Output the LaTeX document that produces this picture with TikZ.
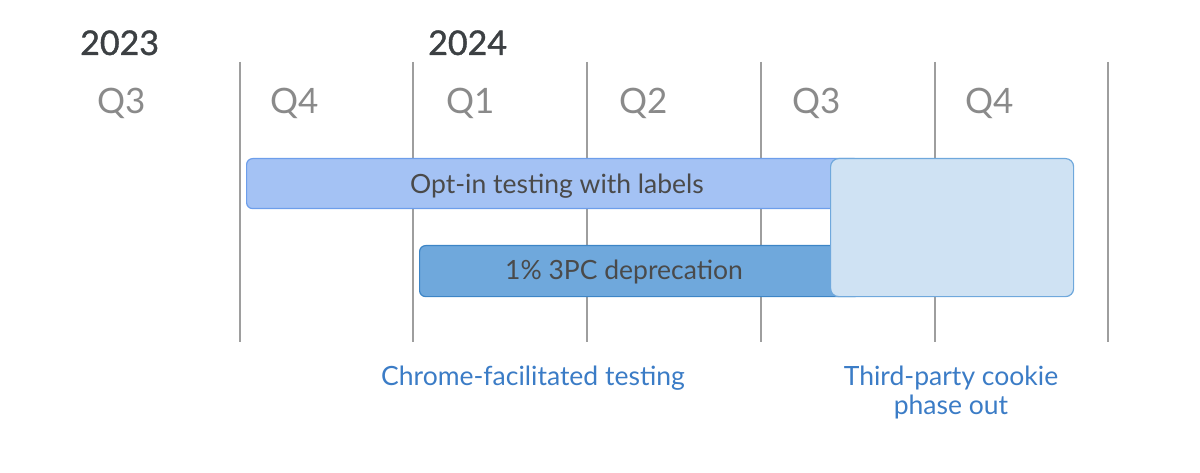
\documentclass[tikz,border=0pt]{standalone}
\usepackage{fontspec}
\setmainfont{Lato}
\newfontfamily\yearfont{Lato}[FakeBold=1.2]
\usepackage{xcolor}
\definecolor{yeargray}{HTML}{3C4043}
\definecolor{qgray}{HTML}{8A8A8A}
\definecolor{linegray}{HTML}{9E9E9E}
\definecolor{optfill}{HTML}{A4C2F4}
\definecolor{optdraw}{HTML}{6D9EEB}
\definecolor{depfill}{HTML}{6FA8DC}
\definecolor{depdraw}{HTML}{3D85C6}
\definecolor{phasefill}{HTML}{CFE2F3}
\definecolor{phasedraw}{HTML}{6FA8DC}
\definecolor{bartext}{HTML}{4A4A4A}
\definecolor{labelblue}{HTML}{3B7CC6}

\begin{document}
\begin{tikzpicture}[x=1pt, y=-1pt]
        % ================= 样式 =================
        \tikzset{
            year/.style={anchor=base west, font=\yearfont\fontsize{34}{36}\selectfont, text=yeargray, inner sep=0pt},
            quarter/.style={anchor=base west, font=\fontsize{35}{38}\selectfont, text=qgray, inner sep=0pt},
            qline/.style={line width=2pt, linegray},
            bar/.style={rectangle, rounded corners=6pt, line width=1.2pt, anchor=north west, inner sep=0pt},
            optbar/.style={bar, fill=optfill, draw=optdraw},
            depbar/.style={bar, fill=depfill, draw=depdraw},
            phasebox/.style={bar, fill=phasefill, draw=phasedraw, rounded corners=8pt},
            bartxt/.style={font=\fontsize{26.5}{28}\selectfont, text=bartext, inner sep=0pt},
            bluetxt/.style={font=\fontsize{26.5}{29}\selectfont, text=labelblue, align=center, inner sep=0pt}
        }

        \useasboundingbox (0,0) rectangle (1200,473);

        % ================= 年份与季度 =================
        \node[year] (y2023) at (80,55) {2023};
        \node[year] (y2024) at (428,55) {2024};

        \foreach \q/\x [count=\i] in {Q3/97, Q4/270, Q1/446, Q2/619, Q3/792, Q4/965} {
            \node[quarter] (q\i) at (\x,114) {\q};
        }

        % 竖线
        \foreach \x [count=\i] in {240, 413, 587, 761, 935, 1108} {
            \coordinate (t\i) at (\x,62);
            \coordinate (b\i) at (\x,342);
            \draw[qline] (t\i) -- (b\i);
        }

        % ================= 条形 =================
        \node[optbar, minimum width=614pt, minimum height=50pt] (opt) at (246,158) {};
        \node[depbar, minimum width=441pt, minimum height=51pt] (dep) at (419,245) {};
        \node[phasebox, minimum width=243pt, minimum height=138pt] (phase) at (830,158) {};

        \node[bartxt] (opttxt) at (557,186) {Opt-in testing with labels};
        \node[bartxt] (deptxt) at (624,272) {1\% 3PC deprecation};

        % ================= 底部标注 =================
        \node[bluetxt, anchor=base] (chrome) at (533,385) {Chrome-facilitated testing};
        \node[bluetxt, anchor=base] (third) at (951,414) {Third-party cookie\\phase out};

    \end{tikzpicture}
\end{document}
